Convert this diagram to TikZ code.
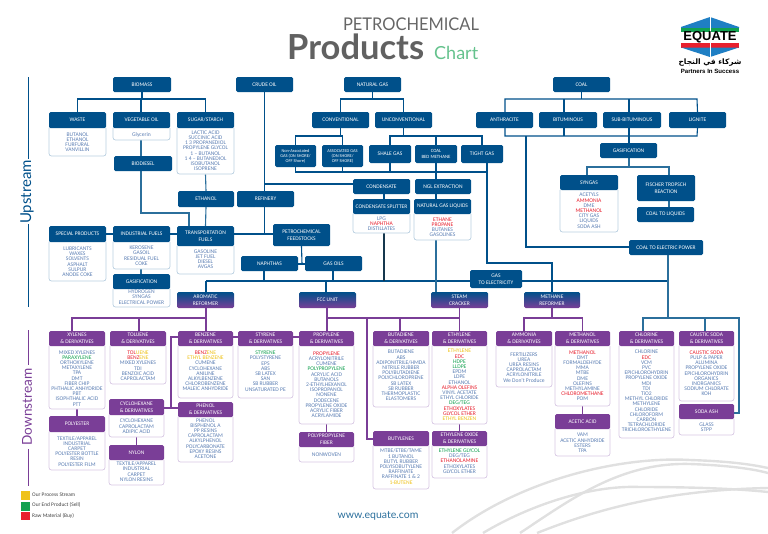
\documentclass[tikz,border=0pt]{standalone}
\usepackage{fontspec}
\setmainfont{Carlito}
\newfontfamily\latofont{Lato}
\newfontfamily\heros{Liberation Sans}
\newfontfamily\arabicfont[Script=Arabic]{DejaVu Sans}
\TeXXeTstate=1
\usetikzlibrary{backgrounds}
\definecolor{eqblue}{HTML}{00508A}
\definecolor{eqpurple}{HTML}{7A3E97}
\definecolor{steel}{HTML}{2B6F9C}
\definecolor{bodytxt}{HTML}{5C7FB4}
\definecolor{bblue}{HTML}{B9CFE0}
\definecolor{bpurple}{HTML}{D8C8E4}
\definecolor{tred}{HTML}{E8202E}
\definecolor{tgreen}{HTML}{12A150}
\definecolor{tyel}{HTML}{EFC21A}
\definecolor{swoosh}{HTML}{E0E0E0}
\definecolor{logoblue}{HTML}{1F7FC4}
\newcommand{\R}[1]{\textcolor{tred}{#1}}
\newcommand{\G}[1]{\textcolor{tgreen}{#1}}
\newcommand{\Y}[1]{\textcolor{tyel}{#1}}
\newcommand{\bx}[7]{\node[#2,minimum width={(#5-#3)*1pt},minimum height={(#6-#4)*1pt}] (#1) at ({(#3+#5)/2},{(#4+#6)/2}) {#7};}
\tikzset{
 x=1pt,y=-1pt,
 hdr/.style={fill=eqblue,draw=none,rounded corners=1.5pt,inner sep=0pt,text=white,align=center,font=\fontsize{5.5}{7}\selectfont},
 phdr/.style={hdr,fill=eqpurple},
 ghdr/.style={hdr,top color=eqblue,bottom color=eqpurple,fill=none},
 bdy/.style={fill=white,draw=bblue,line width=.7pt,rounded corners=2.5pt,inner sep=0pt,text=bodytxt,align=center,font=\fontsize{5.6}{5.2}\selectfont},
 pbdy/.style={bdy,draw=bpurple},
 conn/.style={draw=eqblue,line width=1.1pt},
 sconn/.style={draw=steel,line width=1.1pt},
 pconn/.style={draw=eqpurple,line width=1.1pt},
 lgd/.style={inner sep=0pt,anchor=west,text=black!75,font=\fontsize{5.4}{6}\selectfont},
 swl/.style={draw=swoosh,line width=2.4pt},
}
\begin{document}
\begin{tikzpicture}
\useasboundingbox (0,0) rectangle (768,533);
% Title
\node[inner sep=0pt,anchor=base,xscale=.94,text=black!60,font=\latofont\fontsize{17.5}{20}\selectfont] (ttl1) at (411,30) {PETROCHEMICAL};
\node[inner sep=0pt,anchor=base west,text=black!62,font=\latofont\bfseries\fontsize{34.5}{40}\selectfont] (ttl2) at (287,59.5) {Products};
\node[inner sep=0pt,anchor=base west,text=tgreen!65,font=\latofont\fontsize{18}{20}\selectfont] (ttl3) at (434,59.5) {Chart};
% Logo
\fill[logoblue] (710,17) -- (739,27) -- (739,28) -- (681,28) -- (681,27) -- cycle;
\fill[tgreen] (681,27.5) rectangle (739,32);
\fill[tred] (681,43) rectangle (739,47.5);
\fill[logoblue] (681,47.5) -- (739,47.5) -- (710,57) -- cycle;
\draw[white,line width=.5pt] (710,17) -- (710,32) (710,43) -- (710,57);
\node[inner sep=0pt,text=black,font=\heros\bfseries\fontsize{13}{14}\selectfont] (logo) at (710,37.5) {EQUATE};
\node[inner sep=0pt,text=black,font=\arabicfont\bfseries\fontsize{7.5}{8}\selectfont] (logoar) at (710,62.5) {\beginR شركاء في النجاح\endR};
\node[inner sep=0pt,text=black,font=\heros\bfseries\fontsize{6.1}{6.5}\selectfont] (logoen) at (710,71) {Partners In Success};
% side labels
\node[rotate=90,inner sep=0pt,text=eqblue,font=\latofont\fontsize{15}{18}\selectfont] (up) at (27,192) {Upstream};
\node[rotate=90,inner sep=0pt,text=eqpurple,font=\latofont\fontsize{13.6}{18}\selectfont] (down) at (27,407) {Downstream};
% Upstream row 1
\bx{biomass}{hdr}{113}{77}{171}{92}{BIOMASS}
\bx{crude}{hdr}{236}{77}{293}{92}{CRUDE OIL}
\bx{natgas}{hdr}{344}{77}{401}{92}{NATURAL GAS}
\bx{coal}{hdr}{553}{77}{610}{92}{COAL}
% bodies first
\bx{wasteb}{bdy}{49}{126}{106}{156}{\\[1pt]BUTANOL\\ETHANOL\\FURFURAL\\VANVILLIN}
\bx{wasteh}{hdr}{49}{112}{106}{128}{WASTE}
\bx{vegb}{bdy}{113}{126}{170}{140}{\\[2pt]Glycerin}
\bx{vegh}{hdr}{113}{112}{170}{128}{VEGETABLE OIL}
\bx{sugarb}{bdy}{177}{126}{234}{174}{\\LACTIC ACID\\SUCCINIC ACID\\1 3 PROPANEDIOL\\PROPYLENE GLYCOL\\1 -- BUTANOL\\1 4 -- BUTANEDIOL\\ISOBUTANOL\\ISOPRENE}
\bx{sugarh}{hdr}{177}{112}{234}{128}{SUGAR/STARCH}
\bx{biodiesel}{hdr}{114}{156}{172}{171}{BIODIESEL}
\bx{ethanol}{hdr}{178}{191}{234}{207}{ETHANOL}
\bx{refinery}{hdr}{237}{191}{294}{207}{REFINERY}
\bx{conv}{hdr}{312}{112}{369}{128}{CONVENTIONAL}
\bx{unconv}{hdr}{375}{112}{432}{128}{UNCONVENTIONAL}
\bx{anth}{hdr}{476}{112}{533}{128}{ANTHRACITE}
\bx{bitu}{hdr}{539}{112}{597}{128}{BITUMINOUS}
\bx{subbit}{hdr}{603}{112}{661}{128}{SUB-BITUMINOUS}
\bx{lignite}{hdr}{669}{112}{726}{128}{LIGNITE}
\bx{gasifr}{hdr}{600}{143}{657}{158}{GASIFICATION}
\node[hdr,font=\fontsize{4.4}{5}\selectfont,minimum width=41pt,minimum height=22pt] (nonas) at (295.5,156) {Non-Associated\\GAS (ON SHORE/\\OFF Shore)};
\node[hdr,font=\fontsize{4.4}{5}\selectfont,minimum width=41pt,minimum height=22pt] (assoc) at (342.5,156) {ASSOCIATED GAS\\(ON SHORE/\\OFF SHORE)};
\bx{shale}{hdr}{369}{145}{411}{163}{SHALE GAS}
\node[hdr,font=\fontsize{4.8}{5.6}\selectfont,minimum width=42pt,minimum height=18pt] (cbm) at (436,154) {COAL\\BED METHANE};
\bx{tight}{hdr}{461}{145}{503}{163}{TIGHT GAS}
\bx{conden}{hdr}{353}{179}{410}{194}{CONDENSATE}
\bx{ngl}{hdr}{415}{179}{471}{194}{NGL EXTRACTION}
\bx{splitb}{bdy}{353}{212}{410}{233}{\\[1pt]LPG\\\R{NAPHTHA}\\DISTILLATES}
\bx{splith}{hdr}{353}{199}{410}{214}{CONDENSATE SPLITTER}
\bx{nglb}{bdy}{414}{212}{471}{240}{\\[1pt]\R{ETHANE}\\\R{PROPANE}\\BUTANES\\GASOLINES}
\bx{nglh}{hdr}{414}{199}{471}{214}{NATURAL GAS LIQUIDS}
\bx{syngb}{bdy}{560}{188}{618}{232}{\\ACETYLS\\\R{AMMONIA}\\DME\\\R{METHANOL}\\CITY GAS\\LIQUIDS\\SODA ASH}
\bx{syngh}{hdr}{560}{175}{618}{190}{SYNGAS}
\bx{fischer}{hdr}{637}{175}{695}{201}{FISCHER TROPSCH\\REACTION}
\bx{c2l}{hdr}{637}{207}{694}{222}{COAL TO LIQUIDS}
\bx{c2e}{hdr}{629}{240}{703}{255}{COAL TO ELECTRIC POWER}
\bx{specb}{bdy}{49}{240}{106}{281}{\\[1pt]LUBRICANTS\\WAXES\\SOLVENTS\\ASPHALT\\SULPUR\\ANODE COKE}
\bx{spech}{hdr}{49}{226}{106}{242}{SPECIAL PRODUCTS}
\bx{indb}{bdy}{113}{240}{170}{269}{\\[1pt]KEROSENE\\GASOIL\\RESIDUAL FUEL\\COKE}
\bx{indh}{hdr}{113}{226}{170}{242}{INDUSTRIAL FUELS}
\bx{tranb}{bdy}{177}{244}{234}{274}{GASOLINE\\JET FUEL\\DIESEL\\AVGAS}
\bx{tranh}{hdr}{177}{226}{234}{246}{TRANSPORTATION\\FUELS}
\bx{gasiflb}{bdy}{113}{287}{170}{307}{HYDROGEN\\SYNGAS\\ELECTRICAL POWER}
\bx{gasiflh}{hdr}{113}{274}{170}{289}{GASIFICATION}
\bx{petro}{hdr}{273}{224}{330}{246}{PETROCHEMICAL\\FEEDSTOCKS}
\bx{naph}{hdr}{241}{256}{298}{271}{NAPHTHAS}
\bx{gasoils}{hdr}{305}{256}{362}{271}{GAS OILS}
\bx{g2e}{hdr}{470}{270}{522}{288}{GAS\\TO ELECTRICITY}
% Reformers
\bx{arom}{ghdr}{177}{292}{234}{308}{AROMATIC\\REFORMER}
\bx{fcc}{ghdr}{299}{292}{356}{308}{FCC UNIT}
\bx{steam}{ghdr}{431}{292}{488}{308}{STEAM\\CRACKER}
\bx{methref}{ghdr}{524}{292}{580}{308}{METHANE\\REFORMER}
% Downstream
\bx{xylb}{pbdy}{49}{344}{105}{409}{\\[2pt]MIXED XYLENES\\\G{PARAXYLENE}\\ORTHOXYLENE\\METAXYLENE\\TPA\\DMT\\FIBER CHIP\\PHTHALIC ANHYDRIDE\\PBT\\ISOPHTHALIC ACID\\PTT}
\bx{xylh}{phdr}{49}{331}{105}{346}{XYLENES\\\& DERIVATIVES}
\bx{tolb}{pbdy}{110}{344}{166}{384}{\\[2pt]\R{TOL}\Y{UENE}\\\R{BENZ}\Y{ENE}\\MIXED XYLENES\\TDI\\BENZOIC ACID\\CAPROLACTAM}
\bx{tolh}{phdr}{110}{331}{166}{346}{TOLUENE\\\& DERIVATIVES}
\bx{benb}{pbdy}{178}{344}{233}{398}{\R{BENZ}\Y{ENE}\\\Y{ETHYL BENZENE}\\CUMENE\\CYCLOHEXANE\\ANILINE\\ALKYLBENZENE\\CHLOROBENZENE\\MALEIC ANHYDRIDE}
\bx{benh}{phdr}{178}{331}{233}{346}{BENZENE\\\& DERIVATIVES}
\bx{styb}{pbdy}{238}{344}{293}{398}{\G{STYRENE}\\POLYSTYRENE\\EPS\\ABS\\SB LATEX\\SAN\\SB RUBBER\\UNSATURATED PE}
\bx{styh}{phdr}{238}{331}{293}{346}{STYRENE\\\& DERIVATIVES}
\bx{prob}{pbdy}{299}{344}{354}{424}{\\\R{PROPYLENE}\\ACRYLONITRILE\\CUMENE\\\G{POLYPROPYLENE}\\ACRYLIC ACID\\BUTANOLS\\2-ETHYLHEXANOL\\ISOPROPANOL\\NONENE\\DODECENE\\PROPYLENE OXIDE\\ACRYLIC FIBER\\ACRYLAMIDE}
\bx{proh}{phdr}{299}{331}{354}{346}{PROPYLENE\\\& DERIVATIVES}
\bx{butb}{pbdy}{373}{344}{429}{407}{BUTADIENE\\ABS\\ADIPONITRILE/HMDA\\NITRILE RUBBER\\POLYBUTADIENE\\POLYCHLOROPRENE\\SB LATEX\\SB RUBBER\\THERMOPLASTIC\\ELASTOMERS}
\bx{buth}{phdr}{373}{331}{429}{346}{BUTADIENE\\\& DERIVATIVES}
\bx{ethb}{pbdy}{432}{344}{487}{424}{\\\Y{ETHYLENE}\\\R{EDC}\\\G{HDPE}\\\G{LLDPE}\\EPDM\\LDPE\\ETHANOL\\\R{ALPHA OLEFINS}\\VINYL ACETATE\\ETHYL CHLORIDE\\\G{DEG/TEG}\\\R{ETHOXYLATES}\\\R{GLYCOL ETHER}\\\Y{ETHYL BENZEN}}
\bx{ethh}{phdr}{432}{331}{487}{346}{ETHYLENE\\\& DERIVATIVES}
\bx{ammb}{pbdy}{496}{344}{552}{387}{\\[2pt]FERTILIZERS\\UREA\\UREA RESINS\\CAPROLACTAM\\ACRYLONITRILE\\We Don't Produce}
\bx{ammh}{phdr}{496}{331}{552}{346}{AMMONIA\\\& DERIVATIVES}
\bx{metb}{pbdy}{555}{344}{610}{406}{\\\R{METHANOL}\\DMT\\FORMALDEHYDE\\MMA\\MTBE\\DME\\OLEFINS\\METHYLAMINE\\\R{CHLOROMETHANE}\\POM}
\bx{meth}{phdr}{555}{331}{610}{346}{METHANOL\\\& DERIVATIVES}
\bx{chlb}{pbdy}{619}{344}{674}{438}{CHLORINE\\\R{EDC}\\VCM\\PVC\\EPICHLOROHYDRIN\\PROPYLENE OXIDE\\MDI\\TDI\\TiO2\\METHYL CHLORIDE\\METHYLENE\\CHLORIDE\\CHLOROFORM\\CARBON\\TETRACHLORIDE\\TRICHLOROETHYLENE}
\bx{chlh}{phdr}{619}{331}{674}{346}{CHLORINE\\\& DERIVATIVES}
\bx{caub}{pbdy}{679}{344}{734}{401}{\\\R{CAUSTIC SODA}\\PULP \& PAPER\\ALUMINA\\PROPYLENE OXIDE\\EPICHLOROHYDRIN\\ORGANICS\\INORGANICS\\SODIUM CHLORATE\\KOH}
\bx{cauh}{phdr}{679}{331}{734}{346}{CAUSTIC SODA\\\& DERIVATIVES}
\bx{sodb}{pbdy}{679}{417}{734}{435}{\\[1pt]GLASS\\STPP}
\bx{sodh}{phdr}{679}{404}{734}{419}{SODA ASH}
\bx{aceb}{pbdy}{555}{427}{610}{456}{\\[1pt]VAM\\ACETIC ANHYDRIDE\\ESTERS\\TPA}
\bx{aceh}{phdr}{555}{414}{610}{429}{ACETIC ACID}
\bx{cycb}{pbdy}{109}{413}{164}{437}{\\[1pt]CYCLOHEXANE\\CAPROLACTAM\\ADIPIC ACID}
\bx{cych}{phdr}{109}{399}{164}{415}{CYCLOHEXANE\\\& DERIVATIVES}
\bx{phnb}{pbdy}{178}{415}{233}{462}{PHENOL\\BISPHENOL A\\PP RESINS\\CAPROLACTAM\\ALKYLPHENOL\\POLYCARBONATE\\EPOXY RESINS\\ACETONE}
\bx{phnh}{phdr}{178}{402}{233}{417}{PHENOL\\\& DERIVATIVES}
\bx{polb}{pbdy}{49}{430}{105}{470}{\\[1pt]TEXTILE/APPAREL\\INDUSTRIAL\\CARPET\\POLYESTER BOTTLE\\RESIN\\POLYESTER FILM}
\bx{polh}{phdr}{49}{416}{105}{432}{POLYESTER}
\bx{nylb}{pbdy}{109}{458}{164}{485}{TEXTILE/APPAREL\\INDUSTRIAL\\CARPET\\NYLON RESINS}
\bx{nylh}{phdr}{109}{445}{164}{460}{NYLON}
\bx{ppfb}{pbdy}{299}{445}{354}{462}{\\[1pt]NONWOVEN}
\bx{ppfh}{phdr}{299}{432}{354}{447}{POLYPROPYLENE\\FIBER}
\bx{btyb}{pbdy}{373}{444}{429}{489}{MTBE/ETBE/TAME\\1 BUTANOL\\BUTYL RUBBER\\POLYISOBUTYLENE\\RAFFINATE\\RAFFINATE 1 \& 2\\\Y{1-BUTENE}}
\bx{btyh}{phdr}{373}{431}{429}{446}{BUTYLENES}
\bx{eoxb}{pbdy}{432}{444}{487}{478}{\G{ETHYLENE GLYCOL}\\DEG/TEG\\\R{ETHANOLAMINE}\\ETHOXYLATES\\GLYCOL ETHER}
\bx{eoxh}{phdr}{432}{431}{487}{446}{ETHYLENE OXIDE\\\& DERIVATIVES}
% Legend
\fill[tyel] (21,491) rectangle (30,500);
\fill[tgreen] (21,502) rectangle (30,511);
\fill[tred] (21,512) rectangle (30,520);
\node[lgd] (lt1) at (32,495) {Our Process Stream};
\node[lgd] (lt2) at (32,505) {Our End Product (Sell)};
\node[lgd] (lt3) at (32,515.5) {Raw Material (Buy)};
\node[inner sep=0pt,text=steel,font=\latofont\fontsize{10.5}{12}\selectfont] (web) at (378,516) {www.equate.com};
% Junctions
\coordinate (busBio) at (141,99);
\coordinate (busNG) at (372,99);
\coordinate (busCoal) at (581,99);
\coordinate (busConv) at (341,136);
\coordinate (busUnc) at (404,136);
\coordinate (busGas) at (384,172);
\coordinate (jBio) at (141,213);
\coordinate (jTr) at (264,234);
\coordinate (jCo) at (264,184);
\coordinate (bus1) at (206,281);
\coordinate (bus2) at (668,281);
\coordinate (busCo2) at (526,136);
\coordinate (jC2e) at (526,247);
\coordinate (busGf) at (629,167);
\coordinate (jT1) at (487,263);
\coordinate (jT2) at (552,263);
\coordinate (busAr) at (206,318);
\coordinate (busFc) at (327,318);
\coordinate (busMe) at (552,318);
\coordinate (busEl) at (668,318);
\coordinate (jEl) at (739,318);
\coordinate (jSoda) at (739,413);
\coordinate (jBen) at (171,337);
\coordinate (jPh) at (171,408);
\coordinate (jBy) at (367,318);
\coordinate (jBy2) at (367,439);
\coordinate (jNa) at (302,264);
\begin{pgfonlayer}{background}
% swooshes
\draw[swl] (452,533) .. controls (520,480) and (620,456) .. (690,460) .. controls (720,461) and (745,463) .. (768,468);
\draw[swl] (483,533) .. controls (530,505) and (590,485) .. (640,487) .. controls (680,487) and (730,488) .. (768,492);
\draw[swl] (520,533) .. controls (570,500) and (620,462) .. (690,464) .. controls (720,465) and (750,468) .. (768,473);
\draw[swl] (537,533) .. controls (590,512) and (660,490) .. (768,488);
% upstream / downstream rules
\draw[eqblue,line width=.9pt] (28,77) -- (28,159);
\draw[eqblue,line width=.9pt] (28,224) -- (28,307);
\draw[eqpurple,line width=.9pt] (28,330) -- (28,365);
\draw[eqpurple,line width=.9pt] (28,449) -- (28,486);
% biomass
\draw[conn] (biomass.south) -- (biomass.south |- busBio);
\draw[conn] (wasteh.north) -- (wasteh.north |- busBio) -- (sugarh.north |- busBio) -- (sugarh.north);
\draw[conn] (vegh.north -| busBio) -- (busBio);
\draw[sconn] (vegb.south -| busBio) -- (biodiesel.north -| busBio);
\draw[sconn] (biodiesel.south -| busBio) -- (jBio) -- (189,213) -- (tranh.north -| 189,0);
\draw[sconn] (sugarb.south) -- (ethanol.north);
\draw[sconn] (ethanol.south) -- (tranh.north);
% crude
\draw[conn] (crude.south) -- (crude.south |- jTr);
\draw[conn] (spech.east |- jTr) -- (indh.west |- jTr);
\draw[conn] (indh.east |- jTr) -- (tranh.west |- jTr);
\draw[conn] (tranh.east |- jTr) -- (petro.west |- jTr);
\draw[conn] (jCo) -- (conden.west |- jCo);
\draw[sconn] (indb.south -| 141,0) -- (gasiflh.north -| 141,0);
\draw[conn] (petro.south) -- (jNa);
\draw[conn] (naph.east |- jNa) -- (gasoils.west |- jNa);
% natural gas
\draw[conn] (natgas.south) -- (natgas.south |- busNG);
\draw[conn] (conv.north) -- (conv.north |- busNG) -- (unconv.north |- busNG) -- (unconv.north);
\draw[conn] (conv.south) -- (conv.south |- busConv);
\draw[conn] (unconv.south) -- (unconv.south |- busUnc);
\draw[conn] (nonas.north) -- (nonas.north |- busConv) -- (assoc.north |- busConv) -- (assoc.north);
\draw[conn] (shale.north) -- (shale.north |- busUnc) -- (tight.north |- busUnc) -- (tight.north);
\draw[conn] (cbm.north) -- (cbm.north |- busUnc);
\draw[conn] (nonas.south) -- (nonas.south |- busGas) -- (jT1 |- busGas);
\draw[conn] (assoc.south) -- (assoc.south |- busGas);
\draw[conn] (shale.south) -- (shale.south |- busGas);
\draw[conn] (cbm.south) -- (ngl.north -| cbm.south);
\draw[conn] (conden.south -| busGas) -- (splith.north -| busGas);
\draw[conn] (ngl.south -| cbm.south) -- (nglh.north -| cbm.south);
\draw[conn] (tight.south -| jT1) -- (jT1) -- (jT2) -- (methref.north -| jT2);
% feeds to bus
\draw[conn] (bus1) -- (g2e.west |- bus1);
\draw[conn] (g2e.east |- bus1) -- (bus2);
\draw[conn] (arom.north -| bus1) -- (bus1);
\draw[conn] (naph.south -| jTr) -- (jTr |- bus1);
\draw[conn] (gasoils.south -| 333,0) -- (333,281);
\draw[conn] (fcc.north -| 326,0) -- (326,281);
\draw[sconn,draw=black!50!steel] (splitb.south -| busGas) -- (busGas |- bus1);
\draw[sconn] (nglb.south -| cbm.south) -- (steam.north -| cbm.south);
% coal
\draw[conn] (coal.south) -- (coal.south |- busCoal);
\draw[conn] (anth.north -| 505,0) -- (505,99) -- (697,99) -- (lignite.north);
\draw[conn] (bitu.north -| 564,0) -- (564,99);
\draw[conn] (subbit.north -| 629,0) -- (629,99);
\draw[conn] (anth.south -| 505,0) -- (505,136) -- (697,136) -- (lignite.south);
\draw[conn] (bitu.south -| 564,0) -- (564,136);
\draw[conn] (subbit.south -| 629,0) -- (gasifr.north -| 629,0);
\draw[conn] (busCo2) -- (jC2e) -- (c2e.west |- jC2e);
\draw[sconn] (gasifr.south -| busGf) -- (busGf);
\draw[sconn] (syngh.north -| 587,0) -- (587,167) -- (669,167) -- (fischer.north -| 669,0);
\draw[sconn] (fischer.south -| 669,0) -- (c2l.north -| 669,0);
\draw[sconn] (c2e.south -| bus2) -- (busEl);
\draw[sconn] (chlh.north -| 643,0) -- (643,318) -- (jEl) -- (jSoda) -- (sodh.east |- jSoda);
\draw[sconn] (cauh.north -| 705,0) -- (705,318);
% downstream
\draw[pconn] (arom.south -| busAr) -- (benh.north -| busAr);
\draw[pconn] (xylh.north -| 72,0) -- (72,318) -- (busAr);
\draw[pconn] (tolh.north -| 139,0) -- (139,318);
\draw[pconn] (benh.west |- jBen) -- (jBen) -- (jPh);
\draw[pconn] (cych.east |- jPh) -- (phnh.west |- jPh);
\draw[pconn] (benh.east |- jBen) -- (styh.west |- jBen);
\draw[pconn] (styh.east |- jBen) -- (proh.west |- jBen);
\draw[pconn] (xylb.south -| 77,0) -- (polh.north -| 77,0);
\draw[pconn] (cycb.south) -- (nylh.north);
\draw[pconn] (fcc.south -| busFc) -- (proh.north -| busFc);
\draw[pconn] (busFc) -- (459,318);
\draw[pconn] (steam.south) -- (ethh.north -| steam.south);
\draw[pconn] (buth.north -| 400,0) -- (400,318);
\draw[pconn] (jBy) -- (jBy2) -- (btyh.west |- jBy2);
\draw[pconn] (prob.south) -- (ppfh.north);
\draw[pconn] (ethb.south) -- (eoxh.north);
\draw[pconn] (methref.south) -- (busMe);
\draw[pconn] (ammh.north) -- (ammh.north |- busMe) -- (meth.north |- busMe) -- (meth.north);
\draw[pconn] (metb.south) -- (aceh.north);
\end{pgfonlayer}
\end{tikzpicture}
\end{document}
